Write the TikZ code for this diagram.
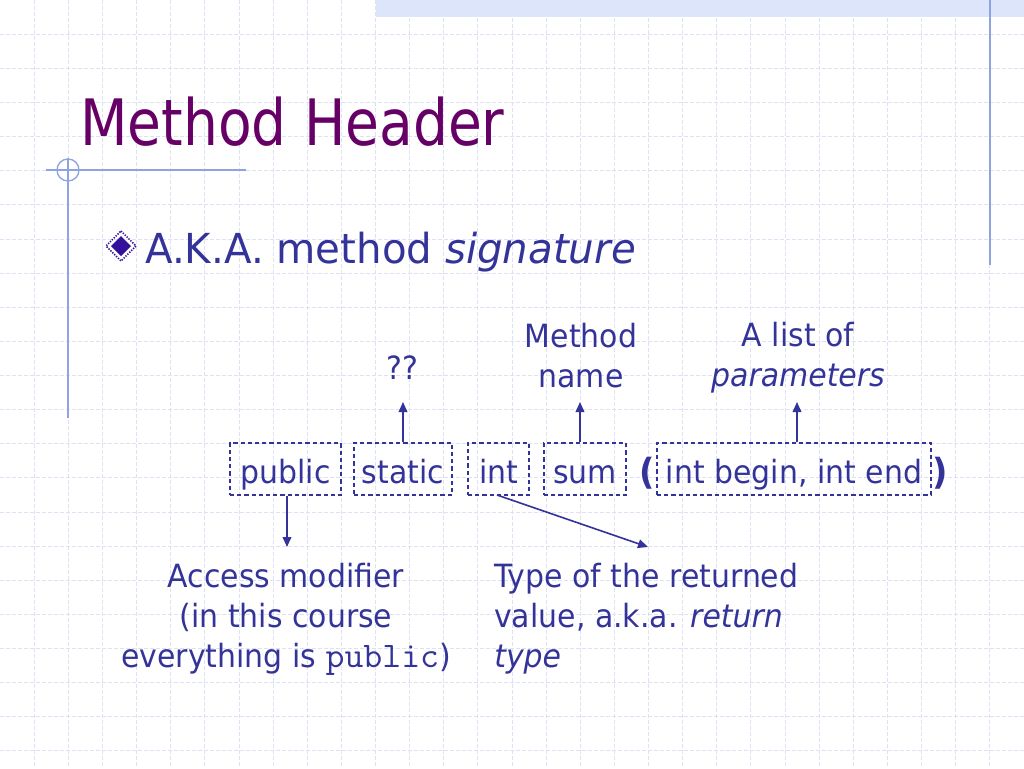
\documentclass[tikz,border=0pt]{standalone}
\usepackage{fontspec}
\setmainfont{DejaVu Sans}[FakeStretch=0.935]
\setmonofont{Latin Modern Mono}[FakeStretch=1.02]
\newfontfamily\titlefont{DejaVu Sans}[FakeStretch=0.86]
\newfontfamily\akafont{DejaVu Sans}[FakeStretch=0.975]
\usetikzlibrary{arrows.meta}
\definecolor{txt}{HTML}{333399}
\definecolor{ttl}{HTML}{660066}
\definecolor{gridc}{HTML}{DCE2F4}
\definecolor{rulec}{HTML}{8EA4E2}
\definecolor{bandc}{HTML}{DCE5FA}
\definecolor{bul}{HTML}{33119A}
\newcommand{\codeword}[1]{{\ttfamily\fontsize{27}{30}\selectfont #1}}
\begin{document}
\begin{tikzpicture}[x=0.75pt,y=-0.75pt,
  lbl/.style={text=txt,font=\fontsize{24}{30}\selectfont,inner sep=0pt},
  codebox/.style={draw=txt,dash pattern=on 3.2pt off 2.2pt,line width=0.9pt,text=txt,
    font=\fontsize{24}{30}\selectfont,text height=25.5pt,text depth=4.5pt,
    inner xsep=0pt,inner ysep=4.5pt},
  paren/.style={text=txt,font=\fontsize{27}{30}\selectfont\bfseries,inner sep=0pt,anchor=base},
  arr/.style={draw=txt,line width=1.2pt,-{Triangle[length=7.5pt,width=6.5pt]}},
  gridline/.style={draw=gridc,dash pattern=on 3pt off 1.5pt,line width=0.6pt},
  rule/.style={draw=rulec,line width=1.2pt}
]
\useasboundingbox (0,0) rectangle (1024,768);
\fill[white] (0,0) rectangle (1024,768);
% grid
\foreach \i in {1,...,29} \draw[gridline] (\i*34.13,0) -- (\i*34.13,768);
\foreach \i in {1,...,22} \draw[gridline] (0,\i*34.13) -- (1024,\i*34.13);
% top band
\fill[bandc] (376,0) rectangle (1024,17);
% margin rules
\draw[rule] (46,170) -- (246,170);
\draw[rule] (68,158) -- (68,418);
\draw[rulec,line width=1pt] (68,170) circle[radius=11];
\draw[rule] (990,0) -- (990,265);
% title
\node[anchor=base west,text=ttl,font=\titlefont\fontsize{48}{56}\selectfont,inner sep=0pt] (title) at (80,145) {Method Header};
% bullet
\draw[bul,line width=1.2pt,dash pattern=on 1pt off 1pt] (121,231) -- (136,246) -- (121,261) -- (106,246) -- cycle;
\fill[bul] (121,236) -- (131,246) -- (121,256) -- (111,246) -- cycle;
\node[anchor=base west,text=txt,font=\akafont\fontsize{31}{36}\selectfont,inner sep=0pt] (aka) at (145,263) {A.K.A. method \textit{signature}};
% code boxes
\node[codebox,minimum width=83.25pt] (pub) at (285.5,469) {public};
\node[codebox,minimum width=73.5pt] (sta) at (403,469) {static};
\node[codebox,minimum width=45.75pt] (int) at (498.5,469) {int};
\node[codebox,minimum width=61.5pt] (sum) at (585,469) {sum};
\node[codebox,minimum width=205.5pt] (par) at (794,469) {int begin, int end};
\node[paren] (lp) at (647,484) {(};
\node[paren] (rp) at (940,484) {)};
% labels
\node[lbl,anchor=base] (qq) at (402,379) {??};
\node[lbl,anchor=base,align=center] (mn) at (581,387) {Method\\name};
\node[lbl,anchor=base,align=center] (lst) at (798,386) {A list of\\\textit{parameters}};
\node[lbl,anchor=base,align=center] (acc) at (286,667) {Access modifier\\(in this course\\everything is \codeword{public})};
\node[lbl,anchor=base west,align=left] (ret) at (494,667) {Type of the returned\\value, a.k.a. \textit{return}\\\textit{type}};
% arrow tips
\coordinate (qqtip) at (403,402);
\coordinate (mntip) at (580,402);
\coordinate (lsttip) at (797,402);
\coordinate (acctip) at (287,547);
\coordinate (rettip) at (648,547);
\coordinate (intfoot) at (497,495);
% arrows
\draw[arr] (sta.north) -- (qqtip);
\draw[arr] (sum.north -| mntip) -- (mntip);
\draw[arr] (par.north -| lsttip) -- (lsttip);
\draw[arr] (pub.south -| acctip) -- (acctip);
\draw[arr] (intfoot) -- (rettip);
\end{tikzpicture}
\end{document}
